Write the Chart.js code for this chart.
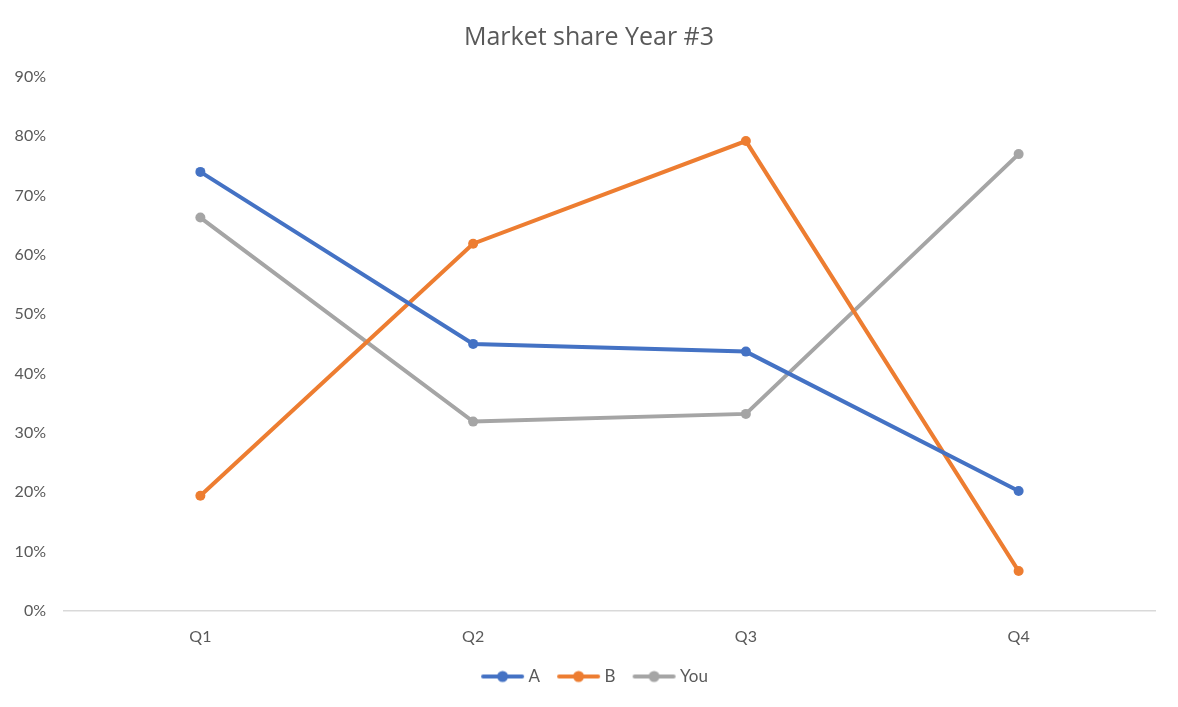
<!DOCTYPE html>
<html>
<head>
<meta charset="utf-8">
<script src="https://cdn.jsdelivr.net/npm/chart.js@4"></script>
<style>
  html, body { margin: 0; padding: 0; background: #fff; }
  #wrap { width: 1178px; height: 707px; }
</style>
</head>
<body>
<div id="wrap"><canvas id="shareChart" width="1178" height="707"></canvas></div>
<script>
// values (percent)
var quarters = ["Q1", "Q2", "Q3", "Q4"];
var seriesA = [74.0, 45.0, 43.7, 20.2];
var seriesB = [19.4, 61.9, 79.2, 6.7];
var seriesYou = [66.3, 31.9, 33.2, 77.0];

var colors = { A: "#4472c4", B: "#ed7d31", You: "#a5a5a5" };
var textColor = "#595959";
var tickFont = "Lato, 'Liberation Sans', sans-serif";

// line-with-dot marker for the legend (drawn toward the right of its box)
function legendMarker(color) {
    var c = document.createElement("canvas");
    c.width = 60;
    c.height = 14;
    var g = c.getContext("2d");
    g.strokeStyle = color;
    g.lineWidth = 4;
    g.lineCap = "round";
    g.beginPath();
    g.moveTo(18, 7);
    g.lineTo(57, 7);
    g.stroke();
    g.fillStyle = color;
    g.beginPath();
    g.arc(37.5, 7, 5.5, 0, Math.PI * 2);
    g.fill();
    return c;
}

function makeSet(label, values, color) {
    return {
        label: label,
        data: values,
        borderColor: color,
        backgroundColor: color,
        borderWidth: 4,
        pointRadius: 5,
        pointHoverRadius: 5,
        pointBorderWidth: 0,
        tension: 0,
        fill: false
    };
}

var ctx = document.getElementById("shareChart").getContext("2d");

var chart = new Chart(ctx, {
    type: "line",
    data: {
        labels: quarters,
        datasets: [
            makeSet("A", seriesA, colors.A),
            makeSet("B", seriesB, colors.B),
            makeSet("You", seriesYou, colors.You)
        ]
    },
    options: {
        responsive: false,
        animation: false,
        layout: {
            padding: { top: 10, right: 0, bottom: 12, left: 0 }
        },
        plugins: {
            title: {
                display: true,
                text: "Market share Year #3",
                color: textColor,
                font: { family: "'Open Sans', 'Noto Sans', sans-serif", size: 25, weight: "normal" },
                padding: { top: 13, bottom: 24 }
            },
            legend: {
                position: "bottom",
                labels: {
                    color: textColor,
                    font: { family: tickFont, size: 17 },
                    usePointStyle: true,
                    pointStyleWidth: 50,
                    padding: 6,
                    generateLabels: function (ch) {
                        return ch.data.datasets.map(function (ds, i) {
                            return {
                                text: ds.label,
                                fillStyle: ds.borderColor,
                                strokeStyle: ds.borderColor,
                                fontColor: textColor,
                                pointStyle: legendMarker(ds.borderColor),
                                lineWidth: 0,
                                hidden: false,
                                datasetIndex: i
                            };
                        });
                    }
                }
            },
            tooltip: { enabled: false }
        },
        scales: {
            x: {
                offset: true,
                grid: { display: false, drawTicks: false },
                border: { display: true, color: "#d9d9d9", width: 1.5 },
                ticks: {
                    color: textColor,
                    font: { family: tickFont, size: 16 },
                    padding: 16
                }
            },
            y: {
                min: 0,
                max: 90,
                grid: { display: false, drawTicks: false },
                border: { display: false },
                afterFit: function (scale) { scale.width = 64; },
                ticks: {
                    stepSize: 10,
                    color: textColor,
                    font: { family: tickFont, size: 16 },
                    padding: 18,
                    callback: function (v) { return v + "%"; }
                }
            },
            // empty right-hand axis, only keeps the plot off the right edge
            spacer: {
                position: "right",
                min: 0,
                max: 90,
                grid: { display: false, drawTicks: false },
                border: { display: false },
                ticks: { display: false },
                afterFit: function (scale) { scale.width = 23; }
            }
        }
    }
});
</script>
</body>
</html>
